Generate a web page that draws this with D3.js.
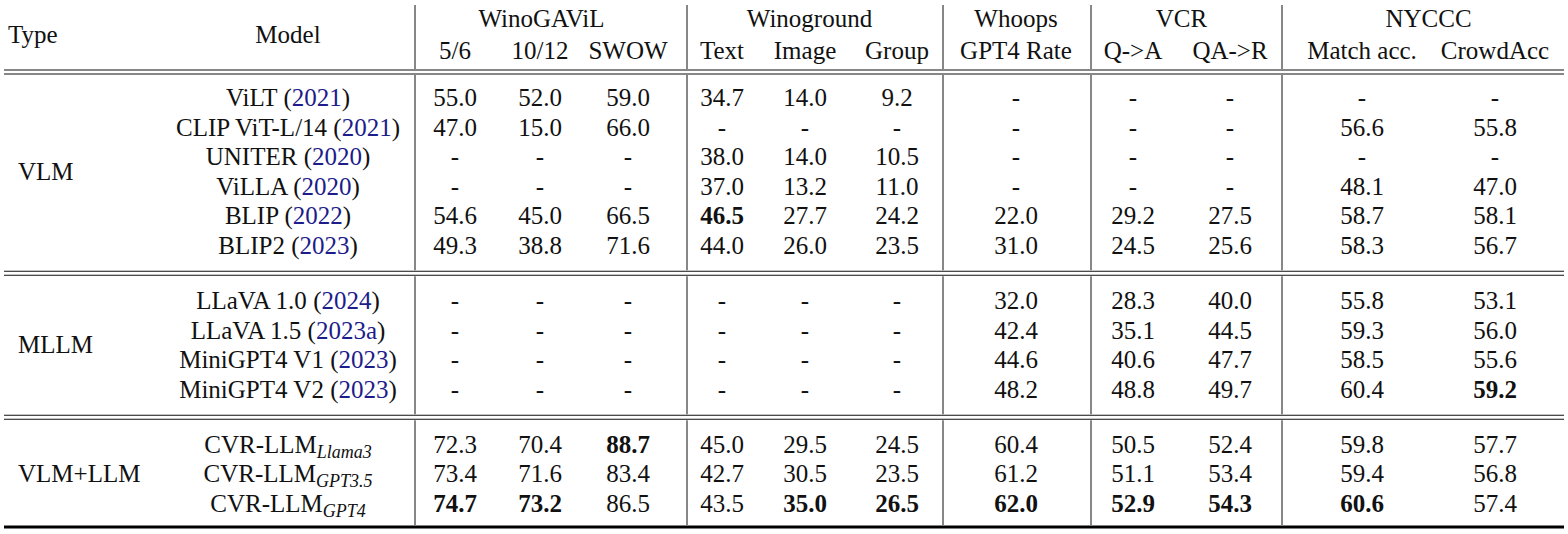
<!DOCTYPE html>
<html><head><meta charset="utf-8">
<script src="https://cdn.jsdelivr.net/npm/d3@7"></script>
<style>body{margin:0;background:#fff}text{font-family:"Liberation Serif","Times New Roman",serif;font-size:25px;fill:#111}</style>
</head><body><svg id="c" width="1568" height="534"></svg>
<script>
const types = ["VLM","MLLM","VLM+LLM"];
const rowType = [0,0,0,0,0,0,1,1,1,1,2,2,2];
const models = ["ViLT","CLIP ViT-L/14","UNITER","ViLLA","BLIP","BLIP2","LLaVA 1.0","LLaVA 1.5","MiniGPT4 V1","MiniGPT4 V2","CVR-LLM","CVR-LLM","CVR-LLM"];
const years = ["2021","2021","2020","2020","2022","2023","2024","2023a","2023","2023",null,null,null];
const subs = [null,null,null,null,null,null,null,null,null,null,"Llama3","GPT3.5","GPT4"];
const groups = ["WinoGAViL","Winoground","Whoops","VCR","NYCCC"];
const groupSpan = [3,3,1,2,2];
const columns = ["5/6","10/12","SWOW","Text","Image","Group","GPT4 Rate","Q->A","QA->R","Match acc.","CrowdAcc"];
const values = [
["55.0","52.0","59.0","34.7","14.0","9.2","-","-","-","-","-"],
["47.0","15.0","66.0","-","-","-","-","-","-","56.6","55.8"],
["-","-","-","38.0","14.0","10.5","-","-","-","-","-"],
["-","-","-","37.0","13.2","11.0","-","-","-","48.1","47.0"],
["54.6","45.0","66.5","46.5","27.7","24.2","22.0","29.2","27.5","58.7","58.1"],
["49.3","38.8","71.6","44.0","26.0","23.5","31.0","24.5","25.6","58.3","56.7"],
["-","-","-","-","-","-","32.0","28.3","40.0","55.8","53.1"],
["-","-","-","-","-","-","42.4","35.1","44.5","59.3","56.0"],
["-","-","-","-","-","-","44.6","40.6","47.7","58.5","55.6"],
["-","-","-","-","-","-","48.2","48.8","49.7","60.4","59.2"],
["72.3","70.4","88.7","45.0","29.5","24.5","60.4","50.5","52.4","59.8","57.7"],
["73.4","71.6","83.4","42.7","30.5","23.5","61.2","51.1","53.4","59.4","56.8"],
["74.7","73.2","86.5","43.5","35.0","26.5","62.0","52.9","54.3","60.6","57.4"]];
const bold = [[4,3],[9,10],[10,2],[12,0],[12,1],[12,4],[12,5],[12,6],[12,7],[12,8],[12,9]];

const svg = d3.select("#c");
const colX = d3.scaleOrdinal().domain(columns).range([455,540,628,722,805,897,1016,1133,1230,1362,1495]);
const slot = i => i + rowType[i]*0.88;
const y = d3.scaleLinear().domain([0, slot(12)]).range([98,504]);
const sepX = [415,687,943,1091,1282];
const lineY = [72, (y(slot(5))+y(slot(6)))/2, (y(slot(9))+y(slot(10)))/2];

svg.append("text").attr("x",8).attr("y",43).text("Type");
svg.append("text").attr("x",288).attr("y",43).attr("text-anchor","middle").text("Model");
let ci=0;
groups.forEach((g,k)=>{const a=columns[ci], b=columns[ci+groupSpan[k]-1];
  svg.append("text").attr("x",(colX(a)+colX(b))/2).attr("y",27).attr("text-anchor","middle").text(g); ci+=groupSpan[k];});
columns.forEach(c=>svg.append("text").attr("x",colX(c)).attr("y",59).attr("text-anchor","middle").text(c));

lineY.forEach(v=>{
  svg.append("line").attr("x1",4).attr("x2",1564).attr("y1",v-2).attr("y2",v-2).attr("stroke","#111").attr("stroke-width",1.2);
  svg.append("line").attr("x1",4).attr("x2",1564).attr("y1",v+2).attr("y2",v+2).attr("stroke","#111").attr("stroke-width",1.2);});
svg.append("line").attr("x1",4).attr("x2",1564).attr("y1",527).attr("y2",527).attr("stroke","#000").attr("stroke-width",3);
const segs=[[5,lineY[0]-3],[lineY[0]+3,lineY[1]-3],[lineY[1]+3,lineY[2]-3],[lineY[2]+3,525]];
sepX.forEach(x=>segs.forEach(s=>svg.append("line").attr("x1",x).attr("x2",x).attr("y1",s[0]).attr("y2",s[1]).attr("stroke","#111").attr("stroke-width",1)));

types.forEach((t,k)=>{const idx=rowType.map((r,i)=>r===k?i:-1).filter(i=>i>=0);
  svg.append("text").attr("x",18).attr("y",(y(slot(idx[0]))+y(slot(idx[idx.length-1])))/2+8).text(t);});

models.forEach((m,i)=>{const yy=y(slot(i))+8;
  const t=svg.append("text").attr("x",288).attr("y",yy).attr("text-anchor","middle");
  t.append("tspan").text(m);
  if(years[i]){t.append("tspan").text(" (");t.append("tspan").style("fill","#1c1c8a").text(years[i]);t.append("tspan").text(")");}
  if(subs[i]){t.append("tspan").attr("dy",5).style("font-style","italic").style("font-size","18px").text(subs[i]);}
  values[i].forEach((v,j)=>{const b=bold.some(p=>p[0]===i&&p[1]===j);
    svg.append("text").attr("x",colX(columns[j])).attr("y",yy).attr("text-anchor","middle").style("font-weight",b?"bold":"normal").text(v);});
});
</script></body></html>
